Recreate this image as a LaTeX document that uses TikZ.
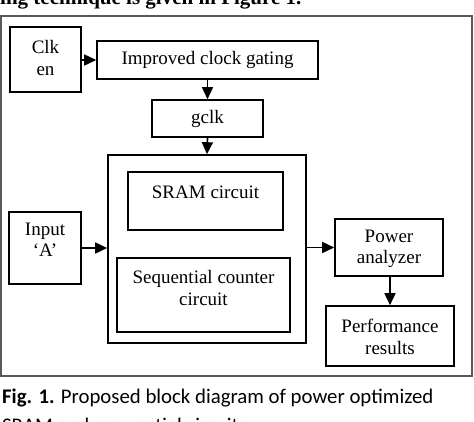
\documentclass[tikz,border=0pt]{standalone}
\usepackage{fontspec}
\setmainfont{Liberation Serif}
\newfontfamily\capfont{Carlito}
\usetikzlibrary{arrows.meta}
\begin{document}
\begin{tikzpicture}[x=1pt,y=-1pt,
  blk/.style={draw=black,line width=1.6pt,rectangle,inner sep=0pt},
  txt/.style={font=\fontsize{19}{21.5}\selectfont,align=center,inner sep=0pt},
  arr/.style={line width=1.6pt,-{Triangle[length=12pt,width=11pt]}}]
\useasboundingbox (0,0) rectangle (474,421);
\clip (0,0) rectangle (474,421);
% cut-off text above
\node[anchor=base west,inner sep=0pt,font=\fontsize{21}{24}\selectfont\bfseries] (toptxt) at (0,4) {ing technique is given in Figure 1.};
% outer frame
\node[draw=black!65,line width=2pt,minimum width=471pt,minimum height=360pt,inner sep=0pt] (frame) at (236.5,196) {};
% boxes
\node[blk,minimum width=71pt,minimum height=65pt] (clk) at (45.5,59.5) {};
\node[txt] (clkt) at (45.5,58) {Clk\\en};
\node[blk,minimum width=221pt,minimum height=38pt,txt] (icg) at (207.5,60) {Improved clock gating};
\node[blk,minimum width=111pt,minimum height=37pt,txt] (gclk) at (207.5,118.5) {gclk};
\node[blk,minimum width=198pt,minimum height=188pt] (big) at (207,249) {};
\node[blk,minimum width=155pt,minimum height=58pt] (sram) at (205.5,201) {};
\node[txt] (sramt) at (205.5,192) {SRAM circuit};
\node[blk,minimum width=173pt,minimum height=74pt] (seq) at (203.5,295) {};
\node[txt] (seqt) at (203.5,288) {Sequential counter\\circuit};
\node[blk,minimum width=72pt,minimum height=72pt] (inp) at (45,248) {};
\node[txt] (inpt) at (45,240) {Input\\`A'};
\node[blk,minimum width=108pt,minimum height=57pt] (pow) at (389,247.5) {};
\node[txt] (powt) at (389,249) {Power\\analyzer};
\node[blk,minimum width=128pt,minimum height=60pt] (perf) at (390,336) {};
\node[txt] (perft) at (390,337) {Performance\\results};
% arrows
\draw[arr] (clk.east |- icg.west) -- (icg.west);
\draw[arr] (icg.south) -- (gclk.north);
\draw[arr] (gclk.south) -- (big.north);
\draw[arr] (inp.east) -- (inp.east -| big.west);
\draw[arr] (big.east |- pow.west) -- (pow.west);
\draw[arr] (pow.south -| perf.north) -- (perf.north);
% caption
\node[anchor=base west,inner sep=0pt,font=\fontsize{20.8}{29}\selectfont\capfont] (cap1) at (2,403) {\textbf{Fig. 1.} Proposed block diagram of power optimized};
\node[anchor=base west,inner sep=0pt,font=\fontsize{20.8}{29}\selectfont\capfont] (cap2) at (2,432) {SRAM and sequential circuits};
\end{tikzpicture}
\end{document}
